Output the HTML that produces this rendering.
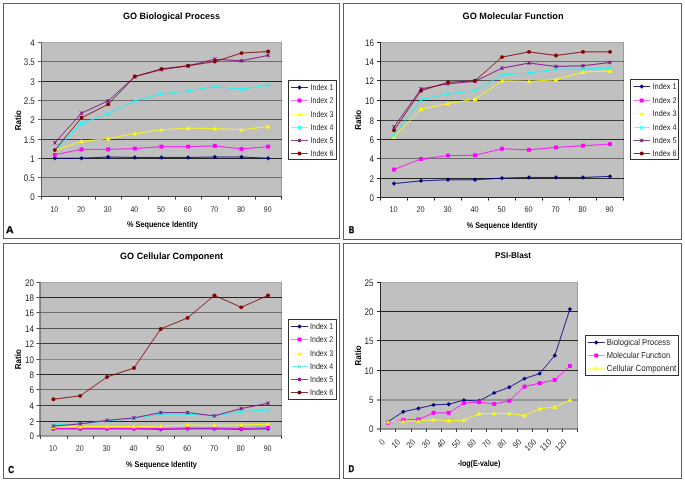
<!DOCTYPE html>
<html><head><meta charset="utf-8"><style>
html,body{margin:0;padding:0;background:#fff;width:685px;height:482px;overflow:hidden}
svg{display:block}
text{font-family:"Liberation Sans", sans-serif;text-rendering:geometricPrecision}
</style></head><body>
<svg width="685" height="482" viewBox="0 0 685 482" font-family='"Liberation Sans", sans-serif'>
<defs><filter id="bl" x="0" y="0" width="1" height="1"><feGaussianBlur stdDeviation="0.3"/></filter></defs>
<g filter="url(#bl)">
<rect width="685" height="482" fill="#fff"/>
<rect x="3.5" y="3.5" width="336" height="235" fill="#fff" stroke="#5e5e5e" stroke-width="1"/>
<text x="171.5" y="19" font-size="9.2" font-weight="bold" text-anchor="middle" textLength="97" lengthAdjust="spacingAndGlyphs" fill="#000">GO Biological Process</text>
<rect x="41" y="42" width="241" height="154" fill="#C0C0C0"/>
<rect x="41" y="42" width="241" height="1" fill="#a6a6a6"/>
<rect x="281" y="42" width="1" height="154" fill="#9a9a9a"/>
<rect x="41" y="61" width="241" height="1" fill="#6c6c6c"/>
<rect x="41" y="81" width="241" height="1" fill="#262626"/>
<rect x="41" y="100" width="241" height="1" fill="#6c6c6c"/>
<rect x="41" y="119" width="241" height="1" fill="#525252"/>
<rect x="41" y="139" width="241" height="1" fill="#3c3c3c"/>
<rect x="41" y="158" width="241" height="1" fill="#262626"/>
<rect x="41" y="177" width="241" height="1" fill="#6c6c6c"/>
<rect x="41" y="42" width="1" height="155" fill="#5e5e5e"/>
<rect x="38" y="61" width="3" height="1" fill="#5e5e5e"/>
<text x="34.8" y="64.7" font-size="9.6" text-anchor="end" textLength="11.09" lengthAdjust="spacingAndGlyphs" fill="#262626">3.5</text>
<rect x="38" y="81" width="3" height="1" fill="#5e5e5e"/>
<text x="34.8" y="84.7" font-size="9.6" text-anchor="end" textLength="4.44" lengthAdjust="spacingAndGlyphs" fill="#262626">3</text>
<rect x="38" y="100" width="3" height="1" fill="#5e5e5e"/>
<text x="34.8" y="103.7" font-size="9.6" text-anchor="end" textLength="11.09" lengthAdjust="spacingAndGlyphs" fill="#262626">2.5</text>
<rect x="38" y="119" width="3" height="1" fill="#5e5e5e"/>
<text x="34.8" y="122.7" font-size="9.6" text-anchor="end" textLength="4.44" lengthAdjust="spacingAndGlyphs" fill="#262626">2</text>
<rect x="38" y="139" width="3" height="1" fill="#5e5e5e"/>
<text x="34.8" y="142.7" font-size="9.6" text-anchor="end" textLength="11.09" lengthAdjust="spacingAndGlyphs" fill="#262626">1.5</text>
<rect x="38" y="158" width="3" height="1" fill="#5e5e5e"/>
<text x="34.8" y="161.7" font-size="9.6" text-anchor="end" textLength="4.44" lengthAdjust="spacingAndGlyphs" fill="#262626">1</text>
<rect x="38" y="177" width="3" height="1" fill="#5e5e5e"/>
<text x="34.8" y="180.7" font-size="9.6" text-anchor="end" textLength="11.09" lengthAdjust="spacingAndGlyphs" fill="#262626">0.5</text>
<rect x="38" y="42" width="3" height="1" fill="#5e5e5e"/>
<text x="34.8" y="45.7" font-size="9.6" text-anchor="end" textLength="4.44" lengthAdjust="spacingAndGlyphs" fill="#262626">4</text>
<rect x="38" y="196" width="3" height="1" fill="#5e5e5e"/>
<text x="34.8" y="199.7" font-size="9.6" text-anchor="end" textLength="4.44" lengthAdjust="spacingAndGlyphs" fill="#262626">0</text>
<rect x="41" y="196" width="241" height="1" fill="#3a3a3a"/>
<rect x="41" y="196" width="1" height="3.5" fill="#3a3a3a"/>
<rect x="68" y="196" width="1" height="3.5" fill="#3a3a3a"/>
<rect x="95" y="196" width="1" height="3.5" fill="#3a3a3a"/>
<rect x="121" y="196" width="1" height="3.5" fill="#3a3a3a"/>
<rect x="148" y="196" width="1" height="3.5" fill="#3a3a3a"/>
<rect x="175" y="196" width="1" height="3.5" fill="#3a3a3a"/>
<rect x="201" y="196" width="1" height="3.5" fill="#3a3a3a"/>
<rect x="228" y="196" width="1" height="3.5" fill="#3a3a3a"/>
<rect x="255" y="196" width="1" height="3.5" fill="#3a3a3a"/>
<rect x="281" y="196" width="1" height="3.5" fill="#3a3a3a"/>
<text x="54.33" y="212" font-size="8.4" text-anchor="middle" textLength="7.7" lengthAdjust="spacingAndGlyphs" fill="#262626">10</text>
<text x="81" y="212" font-size="8.4" text-anchor="middle" textLength="7.7" lengthAdjust="spacingAndGlyphs" fill="#262626">20</text>
<text x="107.67" y="212" font-size="8.4" text-anchor="middle" textLength="7.7" lengthAdjust="spacingAndGlyphs" fill="#262626">30</text>
<text x="134.33" y="212" font-size="8.4" text-anchor="middle" textLength="7.7" lengthAdjust="spacingAndGlyphs" fill="#262626">40</text>
<text x="161" y="212" font-size="8.4" text-anchor="middle" textLength="7.7" lengthAdjust="spacingAndGlyphs" fill="#262626">50</text>
<text x="187.67" y="212" font-size="8.4" text-anchor="middle" textLength="7.7" lengthAdjust="spacingAndGlyphs" fill="#262626">60</text>
<text x="214.33" y="212" font-size="8.4" text-anchor="middle" textLength="7.7" lengthAdjust="spacingAndGlyphs" fill="#262626">70</text>
<text x="241" y="212" font-size="8.4" text-anchor="middle" textLength="7.7" lengthAdjust="spacingAndGlyphs" fill="#262626">80</text>
<text x="267.67" y="212" font-size="8.4" text-anchor="middle" textLength="7.7" lengthAdjust="spacingAndGlyphs" fill="#262626">90</text>
<polyline points="54.83,158.21 81.5,158.21 108.17,157.05 134.83,157.44 161.5,157.44 188.17,157.44 214.83,157.05 241.5,157.05 268.17,158.21" fill="none" stroke="#000080" stroke-width="0.85"/>
<polyline points="54.83,154.74 81.5,149.35 108.17,149.35 134.83,148.58 161.5,146.66 188.17,146.66 214.83,145.89 241.5,148.97 268.17,146.66" fill="none" stroke="#FF00FF" stroke-width="0.85"/>
<polyline points="54.83,150.51 81.5,141.27 108.17,138.57 134.83,133.56 161.5,129.71 188.17,128.17 214.83,128.56 241.5,129.71 268.17,126.63" fill="none" stroke="#FFFF00" stroke-width="0.85"/>
<polyline points="54.83,150.51 81.5,123.55 108.17,113.92 134.83,100.83 161.5,93.9 188.17,90.82 214.83,86.58 241.5,89.28 268.17,85.04" fill="none" stroke="#00FFFF" stroke-width="0.85"/>
<polyline points="54.83,142.81 81.5,113.15 108.17,100.83 134.83,76.57 161.5,69.64 188.17,65.79 214.83,59.24 241.5,60.78 268.17,55.39" fill="none" stroke="#800080" stroke-width="0.85"/>
<polyline points="54.83,150.12 81.5,117.77 108.17,104.3 134.83,76.57 161.5,68.87 188.17,65.79 214.83,61.55 241.5,53.08 268.17,51.54" fill="none" stroke="#800000" stroke-width="0.85"/>
<path d="M54.83 156L57.04 158.21L54.83 160.42L52.62 158.21Z" fill="#000080"/>
<path d="M81.5 156L83.71 158.21L81.5 160.42L79.29 158.21Z" fill="#000080"/>
<path d="M108.17 154.84L110.38 157.05L108.17 159.26L105.96 157.05Z" fill="#000080"/>
<path d="M134.83 155.23L137.04 157.44L134.83 159.65L132.62 157.44Z" fill="#000080"/>
<path d="M161.5 155.23L163.71 157.44L161.5 159.65L159.29 157.44Z" fill="#000080"/>
<path d="M188.17 155.23L190.38 157.44L188.17 159.65L185.96 157.44Z" fill="#000080"/>
<path d="M214.83 154.84L217.04 157.05L214.83 159.26L212.62 157.05Z" fill="#000080"/>
<path d="M241.5 154.84L243.71 157.05L241.5 159.26L239.29 157.05Z" fill="#000080"/>
<path d="M268.17 156L270.38 158.21L268.17 160.42L265.96 158.21Z" fill="#000080"/>
<rect x="52.88" y="152.79" width="3.91" height="3.91" fill="#FF00FF"/>
<rect x="79.55" y="147.4" width="3.91" height="3.91" fill="#FF00FF"/>
<rect x="106.21" y="147.4" width="3.91" height="3.91" fill="#FF00FF"/>
<rect x="132.88" y="146.63" width="3.91" height="3.91" fill="#FF00FF"/>
<rect x="159.54" y="144.7" width="3.91" height="3.91" fill="#FF00FF"/>
<rect x="186.21" y="144.7" width="3.91" height="3.91" fill="#FF00FF"/>
<rect x="212.88" y="143.93" width="3.91" height="3.91" fill="#FF00FF"/>
<rect x="239.54" y="147.01" width="3.91" height="3.91" fill="#FF00FF"/>
<rect x="266.21" y="144.7" width="3.91" height="3.91" fill="#FF00FF"/>
<path d="M54.83 148.21L57.13 152.34L52.54 152.34Z" fill="#FFFF00"/>
<path d="M81.5 138.97L83.8 143.1L79.2 143.1Z" fill="#FFFF00"/>
<path d="M108.17 136.27L110.46 140.41L105.87 140.41Z" fill="#FFFF00"/>
<path d="M134.83 131.27L137.13 135.4L132.54 135.4Z" fill="#FFFF00"/>
<path d="M161.5 127.42L163.79 131.55L159.21 131.55Z" fill="#FFFF00"/>
<path d="M188.17 125.88L190.46 130.01L185.87 130.01Z" fill="#FFFF00"/>
<path d="M214.83 126.26L217.13 130.39L212.54 130.39Z" fill="#FFFF00"/>
<path d="M241.5 127.42L243.79 131.55L239.21 131.55Z" fill="#FFFF00"/>
<path d="M268.17 124.34L270.46 128.47L265.87 128.47Z" fill="#FFFF00"/>
<path d="M53.13 148.81L56.53 152.21M53.13 152.21L56.53 148.81" stroke="#00FFFF" stroke-width="0.9"/>
<path d="M79.8 121.85L83.2 125.25M79.8 125.25L83.2 121.85" stroke="#00FFFF" stroke-width="0.9"/>
<path d="M106.47 112.22L109.87 115.62M106.47 115.62L109.87 112.22" stroke="#00FFFF" stroke-width="0.9"/>
<path d="M133.13 99.13L136.53 102.53M133.13 102.53L136.53 99.13" stroke="#00FFFF" stroke-width="0.9"/>
<path d="M159.8 92.2L163.2 95.6M159.8 95.6L163.2 92.2" stroke="#00FFFF" stroke-width="0.9"/>
<path d="M186.47 89.12L189.87 92.52M186.47 92.52L189.87 89.12" stroke="#00FFFF" stroke-width="0.9"/>
<path d="M213.13 84.88L216.53 88.28M213.13 88.28L216.53 84.88" stroke="#00FFFF" stroke-width="0.9"/>
<path d="M239.8 87.58L243.2 90.98M239.8 90.98L243.2 87.58" stroke="#00FFFF" stroke-width="0.9"/>
<path d="M266.47 83.34L269.87 86.74M266.47 86.74L269.87 83.34" stroke="#00FFFF" stroke-width="0.9"/>
<path d="M53.13 141.11L56.53 144.51M53.13 144.51L56.53 141.11M54.83 141.11L54.83 144.51" stroke="#800080" stroke-width="0.9"/>
<path d="M79.8 111.45L83.2 114.85M79.8 114.85L83.2 111.45M81.5 111.45L81.5 114.85" stroke="#800080" stroke-width="0.9"/>
<path d="M106.47 99.13L109.87 102.53M106.47 102.53L109.87 99.13M108.17 99.13L108.17 102.53" stroke="#800080" stroke-width="0.9"/>
<path d="M133.13 74.87L136.53 78.27M133.13 78.27L136.53 74.87M134.83 74.87L134.83 78.27" stroke="#800080" stroke-width="0.9"/>
<path d="M159.8 67.94L163.2 71.34M159.8 71.34L163.2 67.94M161.5 67.94L161.5 71.34" stroke="#800080" stroke-width="0.9"/>
<path d="M186.47 64.09L189.87 67.49M186.47 67.49L189.87 64.09M188.17 64.09L188.17 67.49" stroke="#800080" stroke-width="0.9"/>
<path d="M213.13 57.54L216.53 60.94M213.13 60.94L216.53 57.54M214.83 57.54L214.83 60.94" stroke="#800080" stroke-width="0.9"/>
<path d="M239.8 59.08L243.2 62.48M239.8 62.48L243.2 59.08M241.5 59.08L241.5 62.48" stroke="#800080" stroke-width="0.9"/>
<path d="M266.47 53.69L269.87 57.09M266.47 57.09L269.87 53.69M268.17 53.69L268.17 57.09" stroke="#800080" stroke-width="0.9"/>
<circle cx="54.83" cy="150.12" r="1.95" fill="#800000"/>
<circle cx="81.5" cy="117.77" r="1.95" fill="#800000"/>
<circle cx="108.17" cy="104.3" r="1.95" fill="#800000"/>
<circle cx="134.83" cy="76.57" r="1.95" fill="#800000"/>
<circle cx="161.5" cy="68.87" r="1.95" fill="#800000"/>
<circle cx="188.17" cy="65.79" r="1.95" fill="#800000"/>
<circle cx="214.83" cy="61.55" r="1.95" fill="#800000"/>
<circle cx="241.5" cy="53.08" r="1.95" fill="#800000"/>
<circle cx="268.17" cy="51.54" r="1.95" fill="#800000"/>
<rect x="288.5" y="80.5" width="48" height="79" fill="#fff" stroke="#333" stroke-width="1"/>
<line x1="291" y1="87.5" x2="308" y2="87.5" stroke="#2a2a80" stroke-width="1"/>
<path d="M299.5 85.29L301.71 87.5L299.5 89.71L297.29 87.5Z" fill="#000080"/>
<text x="310.6" y="89.5" font-size="8.3" textLength="22.8" lengthAdjust="spacingAndGlyphs" fill="#262626">Index 1</text>
<line x1="291" y1="100.5" x2="308" y2="100.5" stroke="#f47af4" stroke-width="1"/>
<rect x="297.55" y="98.55" width="3.91" height="3.91" fill="#FF00FF"/>
<text x="310.6" y="102.5" font-size="8.3" textLength="22.8" lengthAdjust="spacingAndGlyphs" fill="#262626">Index 2</text>
<line x1="291" y1="114.5" x2="308" y2="114.5" stroke="#ffff7a" stroke-width="1"/>
<path d="M299.5 112.2L301.8 116.34L297.2 116.34Z" fill="#FFFF00"/>
<text x="310.6" y="116.5" font-size="8.3" textLength="22.8" lengthAdjust="spacingAndGlyphs" fill="#262626">Index 3</text>
<line x1="291" y1="127.5" x2="308" y2="127.5" stroke="#7af4f4" stroke-width="1"/>
<path d="M297.8 125.8L301.2 129.2M297.8 129.2L301.2 125.8" stroke="#00FFFF" stroke-width="0.9"/>
<text x="310.6" y="129.5" font-size="8.3" textLength="22.8" lengthAdjust="spacingAndGlyphs" fill="#262626">Index 4</text>
<line x1="291" y1="140.5" x2="308" y2="140.5" stroke="#8a4a8a" stroke-width="1"/>
<path d="M297.8 138.8L301.2 142.2M297.8 142.2L301.2 138.8M299.5 138.8L299.5 142.2" stroke="#800080" stroke-width="0.9"/>
<text x="310.6" y="142.5" font-size="8.3" textLength="22.8" lengthAdjust="spacingAndGlyphs" fill="#262626">Index 5</text>
<line x1="291" y1="153.5" x2="308" y2="153.5" stroke="#8a3030" stroke-width="1"/>
<circle cx="299.5" cy="153.5" r="1.95" fill="#800000"/>
<text x="310.6" y="155.5" font-size="8.3" textLength="22.8" lengthAdjust="spacingAndGlyphs" fill="#262626">Index 6</text>
<text x="21" y="120.2" font-size="8.6" font-weight="bold" text-anchor="middle" textLength="20" lengthAdjust="spacingAndGlyphs" fill="#000" transform="rotate(-90 21 120.2)">Ratio</text>
<text x="162.4" y="227.1" font-size="8.4" font-weight="bold" text-anchor="middle" textLength="70.6" lengthAdjust="spacingAndGlyphs" fill="#000">% Sequence Identity</text>
<text x="6" y="233" font-size="10" font-weight="bold" textLength="7.6" lengthAdjust="spacingAndGlyphs" fill="#000" stroke="#000" stroke-width="0.35">A</text>
<rect x="343.5" y="3.5" width="338" height="236" fill="#fff" stroke="#5e5e5e" stroke-width="1"/>
<text x="513" y="19" font-size="9.2" font-weight="bold" text-anchor="middle" textLength="101" lengthAdjust="spacingAndGlyphs" fill="#000">GO Molecular Function</text>
<rect x="380" y="42" width="244" height="155" fill="#C0C0C0"/>
<rect x="380" y="42" width="244" height="1" fill="#a6a6a6"/>
<rect x="623" y="42" width="1" height="155" fill="#9a9a9a"/>
<rect x="380" y="61" width="244" height="1" fill="#6c6c6c"/>
<rect x="380" y="80" width="244" height="1" fill="#525252"/>
<rect x="380" y="100" width="244" height="1" fill="#262626"/>
<rect x="380" y="120" width="244" height="1" fill="#3c3c3c"/>
<rect x="380" y="139" width="244" height="1" fill="#262626"/>
<rect x="380" y="158" width="244" height="1" fill="#6c6c6c"/>
<rect x="380" y="178" width="244" height="1" fill="#262626"/>
<rect x="380" y="42" width="1" height="156" fill="#262626"/>
<rect x="377" y="61" width="3" height="1" fill="#262626"/>
<text x="374" y="64.7" font-size="9.6" text-anchor="end" textLength="8.88" lengthAdjust="spacingAndGlyphs" fill="#262626">14</text>
<rect x="377" y="80" width="3" height="1" fill="#262626"/>
<text x="374" y="83.7" font-size="9.6" text-anchor="end" textLength="8.88" lengthAdjust="spacingAndGlyphs" fill="#262626">12</text>
<rect x="377" y="100" width="3" height="1" fill="#262626"/>
<text x="374" y="103.7" font-size="9.6" text-anchor="end" textLength="8.88" lengthAdjust="spacingAndGlyphs" fill="#262626">10</text>
<rect x="377" y="120" width="3" height="1" fill="#262626"/>
<text x="374" y="123.7" font-size="9.6" text-anchor="end" textLength="4.44" lengthAdjust="spacingAndGlyphs" fill="#262626">8</text>
<rect x="377" y="139" width="3" height="1" fill="#262626"/>
<text x="374" y="142.7" font-size="9.6" text-anchor="end" textLength="4.44" lengthAdjust="spacingAndGlyphs" fill="#262626">6</text>
<rect x="377" y="158" width="3" height="1" fill="#262626"/>
<text x="374" y="161.7" font-size="9.6" text-anchor="end" textLength="4.44" lengthAdjust="spacingAndGlyphs" fill="#262626">4</text>
<rect x="377" y="178" width="3" height="1" fill="#262626"/>
<text x="374" y="181.7" font-size="9.6" text-anchor="end" textLength="4.44" lengthAdjust="spacingAndGlyphs" fill="#262626">2</text>
<rect x="377" y="42" width="3" height="1" fill="#262626"/>
<text x="374" y="45.7" font-size="9.6" text-anchor="end" textLength="8.88" lengthAdjust="spacingAndGlyphs" fill="#262626">16</text>
<rect x="377" y="197" width="3" height="1" fill="#262626"/>
<text x="374" y="200.7" font-size="9.6" text-anchor="end" textLength="4.44" lengthAdjust="spacingAndGlyphs" fill="#262626">0</text>
<rect x="380" y="197" width="244" height="1" fill="#262626"/>
<rect x="380" y="197" width="1" height="3.5" fill="#262626"/>
<rect x="407" y="197" width="1" height="3.5" fill="#262626"/>
<rect x="434" y="197" width="1" height="3.5" fill="#262626"/>
<rect x="461" y="197" width="1" height="3.5" fill="#262626"/>
<rect x="488" y="197" width="1" height="3.5" fill="#262626"/>
<rect x="515" y="197" width="1" height="3.5" fill="#262626"/>
<rect x="542" y="197" width="1" height="3.5" fill="#262626"/>
<rect x="569" y="197" width="1" height="3.5" fill="#262626"/>
<rect x="596" y="197" width="1" height="3.5" fill="#262626"/>
<rect x="623" y="197" width="1" height="3.5" fill="#262626"/>
<text x="393.5" y="212.4" font-size="8.4" text-anchor="middle" textLength="8.2" lengthAdjust="spacingAndGlyphs" fill="#262626">10</text>
<text x="420.5" y="212.4" font-size="8.4" text-anchor="middle" textLength="8.2" lengthAdjust="spacingAndGlyphs" fill="#262626">20</text>
<text x="447.5" y="212.4" font-size="8.4" text-anchor="middle" textLength="8.2" lengthAdjust="spacingAndGlyphs" fill="#262626">30</text>
<text x="474.5" y="212.4" font-size="8.4" text-anchor="middle" textLength="8.2" lengthAdjust="spacingAndGlyphs" fill="#262626">40</text>
<text x="501.5" y="212.4" font-size="8.4" text-anchor="middle" textLength="8.2" lengthAdjust="spacingAndGlyphs" fill="#262626">50</text>
<text x="528.5" y="212.4" font-size="8.4" text-anchor="middle" textLength="8.2" lengthAdjust="spacingAndGlyphs" fill="#262626">60</text>
<text x="555.5" y="212.4" font-size="8.4" text-anchor="middle" textLength="8.2" lengthAdjust="spacingAndGlyphs" fill="#262626">70</text>
<text x="582.5" y="212.4" font-size="8.4" text-anchor="middle" textLength="8.2" lengthAdjust="spacingAndGlyphs" fill="#262626">80</text>
<text x="609.5" y="212.4" font-size="8.4" text-anchor="middle" textLength="8.2" lengthAdjust="spacingAndGlyphs" fill="#262626">90</text>
<polyline points="394,183.58 421,180.86 448,179.79 475,179.79 502,178.13 529,177.45 556,177.45 583,177.45 610,176.38" fill="none" stroke="#000080" stroke-width="0.85"/>
<polyline points="394,169.57 421,158.97 448,155.57 475,155.28 502,148.76 529,149.83 556,147.4 583,145.74 610,144.09" fill="none" stroke="#FF00FF" stroke-width="0.85"/>
<polyline points="394,136.99 421,109.07 448,103.62 475,99.05 502,80.76 529,81.44 556,79.69 583,72.11 610,70.84" fill="none" stroke="#FFFF00" stroke-width="0.85"/>
<polyline points="394,135.33 421,99.73 448,93.7 475,90.68 502,74.83 529,73.08 556,69.09 583,69.09 610,68.21" fill="none" stroke="#00FFFF" stroke-width="0.85"/>
<polyline points="394,126.97 421,88.93 448,83.78 475,81.35 502,68.12 529,63.06 556,66.46 583,65.78 610,62.48" fill="none" stroke="#800080" stroke-width="0.85"/>
<polyline points="394,130.37 421,90.68 448,82.32 475,80.76 502,57.12 529,51.87 556,55.47 583,51.87 610,51.87" fill="none" stroke="#800000" stroke-width="0.85"/>
<path d="M394 181.37L396.21 183.58L394 185.79L391.79 183.58Z" fill="#000080"/>
<path d="M421 178.65L423.21 180.86L421 183.07L418.79 180.86Z" fill="#000080"/>
<path d="M448 177.58L450.21 179.79L448 182L445.79 179.79Z" fill="#000080"/>
<path d="M475 177.58L477.21 179.79L475 182L472.79 179.79Z" fill="#000080"/>
<path d="M502 175.92L504.21 178.13L502 180.34L499.79 178.13Z" fill="#000080"/>
<path d="M529 175.24L531.21 177.45L529 179.66L526.79 177.45Z" fill="#000080"/>
<path d="M556 175.24L558.21 177.45L556 179.66L553.79 177.45Z" fill="#000080"/>
<path d="M583 175.24L585.21 177.45L583 179.66L580.79 177.45Z" fill="#000080"/>
<path d="M610 174.17L612.21 176.38L610 178.59L607.79 176.38Z" fill="#000080"/>
<rect x="392.05" y="167.62" width="3.91" height="3.91" fill="#FF00FF"/>
<rect x="419.05" y="157.02" width="3.91" height="3.91" fill="#FF00FF"/>
<rect x="446.05" y="153.61" width="3.91" height="3.91" fill="#FF00FF"/>
<rect x="473.05" y="153.32" width="3.91" height="3.91" fill="#FF00FF"/>
<rect x="500.05" y="146.8" width="3.91" height="3.91" fill="#FF00FF"/>
<rect x="527.04" y="147.87" width="3.91" height="3.91" fill="#FF00FF"/>
<rect x="554.04" y="145.44" width="3.91" height="3.91" fill="#FF00FF"/>
<rect x="581.04" y="143.79" width="3.91" height="3.91" fill="#FF00FF"/>
<rect x="608.04" y="142.13" width="3.91" height="3.91" fill="#FF00FF"/>
<path d="M394 134.69L396.3 138.82L391.7 138.82Z" fill="#FFFF00"/>
<path d="M421 106.77L423.3 110.91L418.7 110.91Z" fill="#FFFF00"/>
<path d="M448 101.33L450.3 105.46L445.7 105.46Z" fill="#FFFF00"/>
<path d="M475 96.76L477.3 100.89L472.7 100.89Z" fill="#FFFF00"/>
<path d="M502 78.47L504.3 82.6L499.7 82.6Z" fill="#FFFF00"/>
<path d="M529 79.15L531.29 83.28L526.71 83.28Z" fill="#FFFF00"/>
<path d="M556 77.4L558.29 81.53L553.71 81.53Z" fill="#FFFF00"/>
<path d="M583 69.81L585.29 73.94L580.71 73.94Z" fill="#FFFF00"/>
<path d="M610 68.55L612.29 72.68L607.71 72.68Z" fill="#FFFF00"/>
<path d="M392.3 133.63L395.7 137.03M392.3 137.03L395.7 133.63" stroke="#00FFFF" stroke-width="0.9"/>
<path d="M419.3 98.03L422.7 101.43M419.3 101.43L422.7 98.03" stroke="#00FFFF" stroke-width="0.9"/>
<path d="M446.3 92L449.7 95.4M446.3 95.4L449.7 92" stroke="#00FFFF" stroke-width="0.9"/>
<path d="M473.3 88.98L476.7 92.38M473.3 92.38L476.7 88.98" stroke="#00FFFF" stroke-width="0.9"/>
<path d="M500.3 73.13L503.7 76.53M500.3 76.53L503.7 73.13" stroke="#00FFFF" stroke-width="0.9"/>
<path d="M527.3 71.38L530.7 74.78M527.3 74.78L530.7 71.38" stroke="#00FFFF" stroke-width="0.9"/>
<path d="M554.3 67.39L557.7 70.79M554.3 70.79L557.7 67.39" stroke="#00FFFF" stroke-width="0.9"/>
<path d="M581.3 67.39L584.7 70.79M581.3 70.79L584.7 67.39" stroke="#00FFFF" stroke-width="0.9"/>
<path d="M608.3 66.51L611.7 69.91M608.3 69.91L611.7 66.51" stroke="#00FFFF" stroke-width="0.9"/>
<path d="M392.3 125.27L395.7 128.67M392.3 128.67L395.7 125.27M394 125.27L394 128.67" stroke="#800080" stroke-width="0.9"/>
<path d="M419.3 87.23L422.7 90.63M419.3 90.63L422.7 87.23M421 87.23L421 90.63" stroke="#800080" stroke-width="0.9"/>
<path d="M446.3 82.08L449.7 85.48M446.3 85.48L449.7 82.08M448 82.08L448 85.48" stroke="#800080" stroke-width="0.9"/>
<path d="M473.3 79.65L476.7 83.05M473.3 83.05L476.7 79.65M475 79.65L475 83.05" stroke="#800080" stroke-width="0.9"/>
<path d="M500.3 66.42L503.7 69.82M500.3 69.82L503.7 66.42M502 66.42L502 69.82" stroke="#800080" stroke-width="0.9"/>
<path d="M527.3 61.36L530.7 64.76M527.3 64.76L530.7 61.36M529 61.36L529 64.76" stroke="#800080" stroke-width="0.9"/>
<path d="M554.3 64.76L557.7 68.16M554.3 68.16L557.7 64.76M556 64.76L556 68.16" stroke="#800080" stroke-width="0.9"/>
<path d="M581.3 64.08L584.7 67.48M581.3 67.48L584.7 64.08M583 64.08L583 67.48" stroke="#800080" stroke-width="0.9"/>
<path d="M608.3 60.78L611.7 64.18M608.3 64.18L611.7 60.78M610 60.78L610 64.18" stroke="#800080" stroke-width="0.9"/>
<circle cx="394" cy="130.37" r="1.95" fill="#800000"/>
<circle cx="421" cy="90.68" r="1.95" fill="#800000"/>
<circle cx="448" cy="82.32" r="1.95" fill="#800000"/>
<circle cx="475" cy="80.76" r="1.95" fill="#800000"/>
<circle cx="502" cy="57.12" r="1.95" fill="#800000"/>
<circle cx="529" cy="51.87" r="1.95" fill="#800000"/>
<circle cx="556" cy="55.47" r="1.95" fill="#800000"/>
<circle cx="583" cy="51.87" r="1.95" fill="#800000"/>
<circle cx="610" cy="51.87" r="1.95" fill="#800000"/>
<rect x="630.5" y="79.5" width="48" height="80" fill="#fff" stroke="#333" stroke-width="1"/>
<line x1="633.4" y1="86.5" x2="650" y2="86.5" stroke="#2a2a80" stroke-width="1"/>
<path d="M641.7 84.29L643.91 86.5L641.7 88.71L639.49 86.5Z" fill="#000080"/>
<text x="652.5" y="89.1" font-size="8.2" textLength="24.2" lengthAdjust="spacingAndGlyphs" fill="#262626">Index 1</text>
<line x1="633.4" y1="100.5" x2="650" y2="100.5" stroke="#f47af4" stroke-width="1"/>
<rect x="639.75" y="98.55" width="3.91" height="3.91" fill="#FF00FF"/>
<text x="652.5" y="103.1" font-size="8.2" textLength="24.2" lengthAdjust="spacingAndGlyphs" fill="#262626">Index 2</text>
<line x1="633.4" y1="113.5" x2="650" y2="113.5" stroke="#ffff7a" stroke-width="1"/>
<path d="M641.7 111.2L644 115.34L639.41 115.34Z" fill="#FFFF00"/>
<text x="652.5" y="116.1" font-size="8.2" textLength="24.2" lengthAdjust="spacingAndGlyphs" fill="#262626">Index 3</text>
<line x1="633.4" y1="127.5" x2="650" y2="127.5" stroke="#7af4f4" stroke-width="1"/>
<path d="M640 125.8L643.4 129.2M640 129.2L643.4 125.8" stroke="#00FFFF" stroke-width="0.9"/>
<text x="652.5" y="130.1" font-size="8.2" textLength="24.2" lengthAdjust="spacingAndGlyphs" fill="#262626">Index 4</text>
<line x1="633.4" y1="140.5" x2="650" y2="140.5" stroke="#8a4a8a" stroke-width="1"/>
<path d="M640 138.8L643.4 142.2M640 142.2L643.4 138.8M641.7 138.8L641.7 142.2" stroke="#800080" stroke-width="0.9"/>
<text x="652.5" y="143.1" font-size="8.2" textLength="24.2" lengthAdjust="spacingAndGlyphs" fill="#262626">Index 5</text>
<line x1="633.4" y1="153.5" x2="650" y2="153.5" stroke="#8a3030" stroke-width="1"/>
<circle cx="641.7" cy="153.5" r="1.95" fill="#800000"/>
<text x="652.5" y="156.1" font-size="8.2" textLength="24.2" lengthAdjust="spacingAndGlyphs" fill="#262626">Index 6</text>
<text x="360.8" y="119.8" font-size="8.6" font-weight="bold" text-anchor="middle" textLength="20" lengthAdjust="spacingAndGlyphs" fill="#000" transform="rotate(-90 360.8 119.8)">Ratio</text>
<text x="502" y="227.5" font-size="8.4" font-weight="bold" text-anchor="middle" textLength="70.6" lengthAdjust="spacingAndGlyphs" fill="#000">% Sequence Identity</text>
<text x="348.8" y="233" font-size="10" font-weight="bold" textLength="5.5" lengthAdjust="spacingAndGlyphs" fill="#000" stroke="#000" stroke-width="0.35">B</text>
<rect x="3.5" y="243.5" width="336" height="235" fill="#fff" stroke="#5e5e5e" stroke-width="1"/>
<text x="171.5" y="259.3" font-size="9.2" font-weight="bold" text-anchor="middle" textLength="103" lengthAdjust="spacingAndGlyphs" fill="#000">GO Cellular Component</text>
<rect x="39.5" y="282" width="242.5" height="153.5" fill="#C0C0C0"/>
<rect x="39.5" y="282" width="242.5" height="1" fill="#a6a6a6"/>
<rect x="281" y="282" width="1" height="153.5" fill="#9a9a9a"/>
<rect x="39.5" y="297" width="242.5" height="1" fill="#262626"/>
<rect x="39.5" y="312" width="242.5" height="1" fill="#6c6c6c"/>
<rect x="39.5" y="328" width="242.5" height="1" fill="#525252"/>
<rect x="39.5" y="343" width="242.5" height="1" fill="#3c3c3c"/>
<rect x="39.5" y="359" width="242.5" height="1" fill="#8a8a8a"/>
<rect x="39.5" y="374" width="242.5" height="1" fill="#262626"/>
<rect x="39.5" y="389" width="242.5" height="1" fill="#6c6c6c"/>
<rect x="39.5" y="405" width="242.5" height="1" fill="#3c3c3c"/>
<rect x="39.5" y="421" width="242.5" height="1" fill="#262626"/>
<rect x="39.5" y="282" width="1" height="154.5" fill="#444"/>
<rect x="36.5" y="297" width="3" height="1" fill="#444"/>
<text x="34" y="300.7" font-size="9.6" text-anchor="end" textLength="8.88" lengthAdjust="spacingAndGlyphs" fill="#262626">18</text>
<rect x="36.5" y="312" width="3" height="1" fill="#444"/>
<text x="34" y="315.7" font-size="9.6" text-anchor="end" textLength="8.88" lengthAdjust="spacingAndGlyphs" fill="#262626">16</text>
<rect x="36.5" y="328" width="3" height="1" fill="#444"/>
<text x="34" y="331.7" font-size="9.6" text-anchor="end" textLength="8.88" lengthAdjust="spacingAndGlyphs" fill="#262626">14</text>
<rect x="36.5" y="343" width="3" height="1" fill="#444"/>
<text x="34" y="346.7" font-size="9.6" text-anchor="end" textLength="8.88" lengthAdjust="spacingAndGlyphs" fill="#262626">12</text>
<rect x="36.5" y="359" width="3" height="1" fill="#444"/>
<text x="34" y="362.7" font-size="9.6" text-anchor="end" textLength="8.88" lengthAdjust="spacingAndGlyphs" fill="#262626">10</text>
<rect x="36.5" y="374" width="3" height="1" fill="#444"/>
<text x="34" y="377.7" font-size="9.6" text-anchor="end" textLength="4.44" lengthAdjust="spacingAndGlyphs" fill="#262626">8</text>
<rect x="36.5" y="389" width="3" height="1" fill="#444"/>
<text x="34" y="392.7" font-size="9.6" text-anchor="end" textLength="4.44" lengthAdjust="spacingAndGlyphs" fill="#262626">6</text>
<rect x="36.5" y="405" width="3" height="1" fill="#444"/>
<text x="34" y="408.7" font-size="9.6" text-anchor="end" textLength="4.44" lengthAdjust="spacingAndGlyphs" fill="#262626">4</text>
<rect x="36.5" y="421" width="3" height="1" fill="#444"/>
<text x="34" y="424.7" font-size="9.6" text-anchor="end" textLength="4.44" lengthAdjust="spacingAndGlyphs" fill="#262626">2</text>
<rect x="36.5" y="282" width="3" height="1" fill="#444"/>
<text x="34" y="285.7" font-size="9.6" text-anchor="end" textLength="8.88" lengthAdjust="spacingAndGlyphs" fill="#262626">20</text>
<rect x="36.5" y="435.5" width="3" height="1" fill="#444"/>
<text x="34" y="439.2" font-size="9.6" text-anchor="end" textLength="4.44" lengthAdjust="spacingAndGlyphs" fill="#262626">0</text>
<rect x="39.5" y="435.5" width="242.5" height="1" fill="#4a4a4a"/>
<rect x="40" y="435.5" width="1" height="3.5" fill="#4a4a4a"/>
<rect x="67" y="435.5" width="1" height="3.5" fill="#4a4a4a"/>
<rect x="93" y="435.5" width="1" height="3.5" fill="#4a4a4a"/>
<rect x="120" y="435.5" width="1" height="3.5" fill="#4a4a4a"/>
<rect x="147" y="435.5" width="1" height="3.5" fill="#4a4a4a"/>
<rect x="174" y="435.5" width="1" height="3.5" fill="#4a4a4a"/>
<rect x="201" y="435.5" width="1" height="3.5" fill="#4a4a4a"/>
<rect x="228" y="435.5" width="1" height="3.5" fill="#4a4a4a"/>
<rect x="254" y="435.5" width="1" height="3.5" fill="#4a4a4a"/>
<rect x="281" y="435.5" width="1" height="3.5" fill="#4a4a4a"/>
<text x="52.92" y="450.9" font-size="8.4" text-anchor="middle" textLength="7.9" lengthAdjust="spacingAndGlyphs" fill="#262626">10</text>
<text x="79.75" y="450.9" font-size="8.4" text-anchor="middle" textLength="7.9" lengthAdjust="spacingAndGlyphs" fill="#262626">20</text>
<text x="106.58" y="450.9" font-size="8.4" text-anchor="middle" textLength="7.9" lengthAdjust="spacingAndGlyphs" fill="#262626">30</text>
<text x="133.42" y="450.9" font-size="8.4" text-anchor="middle" textLength="7.9" lengthAdjust="spacingAndGlyphs" fill="#262626">40</text>
<text x="160.25" y="450.9" font-size="8.4" text-anchor="middle" textLength="7.9" lengthAdjust="spacingAndGlyphs" fill="#262626">50</text>
<text x="187.08" y="450.9" font-size="8.4" text-anchor="middle" textLength="7.9" lengthAdjust="spacingAndGlyphs" fill="#262626">60</text>
<text x="213.92" y="450.9" font-size="8.4" text-anchor="middle" textLength="7.9" lengthAdjust="spacingAndGlyphs" fill="#262626">70</text>
<text x="240.75" y="450.9" font-size="8.4" text-anchor="middle" textLength="7.9" lengthAdjust="spacingAndGlyphs" fill="#262626">80</text>
<text x="267.58" y="450.9" font-size="8.4" text-anchor="middle" textLength="7.9" lengthAdjust="spacingAndGlyphs" fill="#262626">90</text>
<polyline points="53.42,428.78 80.25,428.78 107.08,428.78 133.92,428.78 160.75,429.25 187.58,428.78 214.42,428.78 241.25,429.25 268.08,428.78" fill="none" stroke="#000080" stroke-width="0.85"/>
<polyline points="53.42,428.47 80.25,428.47 107.08,428.47 133.92,428.47 160.75,428.47 187.58,428.09 214.42,428.09 241.25,428.47 268.08,427.7" fill="none" stroke="#FF00FF" stroke-width="0.85"/>
<polyline points="53.42,427.09 80.25,426.55 107.08,426.47 133.92,426.47 160.75,426.16 187.58,425 214.42,425.39 241.25,425 268.08,424.23" fill="none" stroke="#FFFF00" stroke-width="0.85"/>
<polyline points="53.42,424.85 80.25,423.84 107.08,420.76 133.92,418.44 160.75,414.2 187.58,414.2 214.42,416.13 241.25,411.88 268.08,409.8" fill="none" stroke="#00FFFF" stroke-width="0.85"/>
<polyline points="53.42,426.16 80.25,423.84 107.08,420.37 133.92,417.9 160.75,412.58 187.58,412.58 214.42,415.9 241.25,408.57 268.08,403.24" fill="none" stroke="#800080" stroke-width="0.85"/>
<polyline points="53.42,399.23 80.25,395.84 107.08,376.93 133.92,368.06 160.75,328.94 187.58,317.91 214.42,295.37 241.25,307.33 268.08,295.37" fill="none" stroke="#800000" stroke-width="0.85"/>
<path d="M53.42 426.57L55.63 428.78L53.42 430.99L51.21 428.78Z" fill="#000080"/>
<path d="M80.25 426.57L82.46 428.78L80.25 430.99L78.04 428.78Z" fill="#000080"/>
<path d="M107.08 426.57L109.29 428.78L107.08 430.99L104.87 428.78Z" fill="#000080"/>
<path d="M133.92 426.57L136.13 428.78L133.92 430.99L131.71 428.78Z" fill="#000080"/>
<path d="M160.75 427.04L162.96 429.25L160.75 431.46L158.54 429.25Z" fill="#000080"/>
<path d="M187.58 426.57L189.79 428.78L187.58 430.99L185.37 428.78Z" fill="#000080"/>
<path d="M214.42 426.57L216.63 428.78L214.42 430.99L212.21 428.78Z" fill="#000080"/>
<path d="M241.25 427.04L243.46 429.25L241.25 431.46L239.04 429.25Z" fill="#000080"/>
<path d="M268.08 426.57L270.29 428.78L268.08 430.99L265.87 428.78Z" fill="#000080"/>
<rect x="51.46" y="426.52" width="3.91" height="3.91" fill="#FF00FF"/>
<rect x="78.3" y="426.52" width="3.91" height="3.91" fill="#FF00FF"/>
<rect x="105.13" y="426.52" width="3.91" height="3.91" fill="#FF00FF"/>
<rect x="131.96" y="426.52" width="3.91" height="3.91" fill="#FF00FF"/>
<rect x="158.79" y="426.52" width="3.91" height="3.91" fill="#FF00FF"/>
<rect x="185.63" y="426.13" width="3.91" height="3.91" fill="#FF00FF"/>
<rect x="212.46" y="426.13" width="3.91" height="3.91" fill="#FF00FF"/>
<rect x="239.29" y="426.52" width="3.91" height="3.91" fill="#FF00FF"/>
<rect x="266.13" y="425.75" width="3.91" height="3.91" fill="#FF00FF"/>
<path d="M53.42 424.79L55.71 428.92L51.12 428.92Z" fill="#FFFF00"/>
<path d="M80.25 424.25L82.55 428.38L77.95 428.38Z" fill="#FFFF00"/>
<path d="M107.08 424.17L109.38 428.3L104.79 428.3Z" fill="#FFFF00"/>
<path d="M133.92 424.17L136.21 428.3L131.62 428.3Z" fill="#FFFF00"/>
<path d="M160.75 423.86L163.04 428L158.46 428Z" fill="#FFFF00"/>
<path d="M187.58 422.71L189.88 426.84L185.29 426.84Z" fill="#FFFF00"/>
<path d="M214.42 423.09L216.71 427.22L212.12 427.22Z" fill="#FFFF00"/>
<path d="M241.25 422.71L243.54 426.84L238.96 426.84Z" fill="#FFFF00"/>
<path d="M268.08 421.94L270.38 426.07L265.79 426.07Z" fill="#FFFF00"/>
<path d="M51.72 423.15L55.12 426.55M51.72 426.55L55.12 423.15" stroke="#00FFFF" stroke-width="0.9"/>
<path d="M78.55 422.14L81.95 425.54M78.55 425.54L81.95 422.14" stroke="#00FFFF" stroke-width="0.9"/>
<path d="M105.38 419.06L108.78 422.46M105.38 422.46L108.78 419.06" stroke="#00FFFF" stroke-width="0.9"/>
<path d="M132.22 416.74L135.62 420.14M132.22 420.14L135.62 416.74" stroke="#00FFFF" stroke-width="0.9"/>
<path d="M159.05 412.5L162.45 415.9M159.05 415.9L162.45 412.5" stroke="#00FFFF" stroke-width="0.9"/>
<path d="M185.88 412.5L189.28 415.9M185.88 415.9L189.28 412.5" stroke="#00FFFF" stroke-width="0.9"/>
<path d="M212.72 414.43L216.12 417.83M212.72 417.83L216.12 414.43" stroke="#00FFFF" stroke-width="0.9"/>
<path d="M239.55 410.18L242.95 413.58M239.55 413.58L242.95 410.18" stroke="#00FFFF" stroke-width="0.9"/>
<path d="M266.38 408.1L269.78 411.5M266.38 411.5L269.78 408.1" stroke="#00FFFF" stroke-width="0.9"/>
<path d="M51.72 424.46L55.12 427.86M51.72 427.86L55.12 424.46M53.42 424.46L53.42 427.86" stroke="#800080" stroke-width="0.9"/>
<path d="M78.55 422.14L81.95 425.54M78.55 425.54L81.95 422.14M80.25 422.14L80.25 425.54" stroke="#800080" stroke-width="0.9"/>
<path d="M105.38 418.67L108.78 422.07M105.38 422.07L108.78 418.67M107.08 418.67L107.08 422.07" stroke="#800080" stroke-width="0.9"/>
<path d="M132.22 416.2L135.62 419.6M132.22 419.6L135.62 416.2M133.92 416.2L133.92 419.6" stroke="#800080" stroke-width="0.9"/>
<path d="M159.05 410.88L162.45 414.28M159.05 414.28L162.45 410.88M160.75 410.88L160.75 414.28" stroke="#800080" stroke-width="0.9"/>
<path d="M185.88 410.88L189.28 414.28M185.88 414.28L189.28 410.88M187.58 410.88L187.58 414.28" stroke="#800080" stroke-width="0.9"/>
<path d="M212.72 414.2L216.12 417.6M212.72 417.6L216.12 414.2M214.42 414.2L214.42 417.6" stroke="#800080" stroke-width="0.9"/>
<path d="M239.55 406.87L242.95 410.27M239.55 410.27L242.95 406.87M241.25 406.87L241.25 410.27" stroke="#800080" stroke-width="0.9"/>
<path d="M266.38 401.54L269.78 404.94M266.38 404.94L269.78 401.54M268.08 401.54L268.08 404.94" stroke="#800080" stroke-width="0.9"/>
<circle cx="53.42" cy="399.23" r="1.95" fill="#800000"/>
<circle cx="80.25" cy="395.84" r="1.95" fill="#800000"/>
<circle cx="107.08" cy="376.93" r="1.95" fill="#800000"/>
<circle cx="133.92" cy="368.06" r="1.95" fill="#800000"/>
<circle cx="160.75" cy="328.94" r="1.95" fill="#800000"/>
<circle cx="187.58" cy="317.91" r="1.95" fill="#800000"/>
<circle cx="214.42" cy="295.37" r="1.95" fill="#800000"/>
<circle cx="241.25" cy="307.33" r="1.95" fill="#800000"/>
<circle cx="268.08" cy="295.37" r="1.95" fill="#800000"/>
<rect x="288.5" y="319.5" width="48" height="80" fill="#fff" stroke="#333" stroke-width="1"/>
<line x1="290.8" y1="326.5" x2="308.2" y2="326.5" stroke="#2a2a80" stroke-width="1"/>
<path d="M299.5 324.29L301.71 326.5L299.5 328.71L297.29 326.5Z" fill="#000080"/>
<text x="310" y="328.7" font-size="8.3" textLength="23.2" lengthAdjust="spacingAndGlyphs" fill="#262626">Index 1</text>
<line x1="290.8" y1="339.5" x2="308.2" y2="339.5" stroke="#f47af4" stroke-width="1"/>
<rect x="297.55" y="337.55" width="3.91" height="3.91" fill="#FF00FF"/>
<text x="310" y="341.7" font-size="8.3" textLength="23.2" lengthAdjust="spacingAndGlyphs" fill="#262626">Index 2</text>
<line x1="290.8" y1="353.5" x2="308.2" y2="353.5" stroke="#ffff7a" stroke-width="1"/>
<path d="M299.5 351.2L301.8 355.34L297.2 355.34Z" fill="#FFFF00"/>
<text x="310" y="355.7" font-size="8.3" textLength="23.2" lengthAdjust="spacingAndGlyphs" fill="#262626">Index 3</text>
<line x1="290.8" y1="366.5" x2="308.2" y2="366.5" stroke="#7af4f4" stroke-width="1"/>
<path d="M297.8 364.8L301.2 368.2M297.8 368.2L301.2 364.8" stroke="#00FFFF" stroke-width="0.9"/>
<text x="310" y="368.7" font-size="8.3" textLength="23.2" lengthAdjust="spacingAndGlyphs" fill="#262626">Index 4</text>
<line x1="290.8" y1="379.5" x2="308.2" y2="379.5" stroke="#8a4a8a" stroke-width="1"/>
<path d="M297.8 377.8L301.2 381.2M297.8 381.2L301.2 377.8M299.5 377.8L299.5 381.2" stroke="#800080" stroke-width="0.9"/>
<text x="310" y="381.7" font-size="8.3" textLength="23.2" lengthAdjust="spacingAndGlyphs" fill="#262626">Index 5</text>
<line x1="290.8" y1="392.5" x2="308.2" y2="392.5" stroke="#8a3030" stroke-width="1"/>
<circle cx="299.5" cy="392.5" r="1.95" fill="#800000"/>
<text x="310" y="394.7" font-size="8.3" textLength="23.2" lengthAdjust="spacingAndGlyphs" fill="#262626">Index 6</text>
<text x="21" y="359.2" font-size="8.6" font-weight="bold" text-anchor="middle" textLength="20" lengthAdjust="spacingAndGlyphs" fill="#000" transform="rotate(-90 21 359.2)">Ratio</text>
<text x="161.5" y="466.5" font-size="8.4" font-weight="bold" text-anchor="middle" textLength="70.8" lengthAdjust="spacingAndGlyphs" fill="#000">% Sequence Identity</text>
<text x="8.2" y="473.3" font-size="10" font-weight="bold" textLength="5.8" lengthAdjust="spacingAndGlyphs" fill="#000" stroke="#000" stroke-width="0.35">C</text>
<rect x="343.5" y="243.5" width="338" height="235" fill="#fff" stroke="#5e5e5e" stroke-width="1"/>
<text x="513" y="258" font-size="8.4" font-weight="bold" text-anchor="middle" textLength="36" lengthAdjust="spacingAndGlyphs" fill="#000">PSI-Blast</text>
<rect x="380" y="282" width="198" height="146.5" fill="#C0C0C0"/>
<rect x="380" y="282" width="198" height="1" fill="#a6a6a6"/>
<rect x="577" y="282" width="1" height="146.5" fill="#9a9a9a"/>
<rect x="380" y="311" width="198" height="1" fill="#262626"/>
<rect x="380" y="340" width="198" height="1" fill="#262626"/>
<rect x="380" y="370" width="198" height="1" fill="#262626"/>
<rect x="380" y="399.5" width="198" height="1" fill="#6c6c6c"/>
<rect x="380" y="282" width="1" height="147.5" fill="#262626"/>
<rect x="377" y="311" width="3" height="1" fill="#262626"/>
<text x="373.5" y="314.7" font-size="9.6" text-anchor="end" textLength="8.88" lengthAdjust="spacingAndGlyphs" fill="#262626">20</text>
<rect x="377" y="340" width="3" height="1" fill="#262626"/>
<text x="373.5" y="343.7" font-size="9.6" text-anchor="end" textLength="8.88" lengthAdjust="spacingAndGlyphs" fill="#262626">15</text>
<rect x="377" y="370" width="3" height="1" fill="#262626"/>
<text x="373.5" y="373.7" font-size="9.6" text-anchor="end" textLength="8.88" lengthAdjust="spacingAndGlyphs" fill="#262626">10</text>
<rect x="377" y="399.5" width="3" height="1" fill="#262626"/>
<text x="373.5" y="403.2" font-size="9.6" text-anchor="end" textLength="4.44" lengthAdjust="spacingAndGlyphs" fill="#262626">5</text>
<rect x="377" y="282" width="3" height="1" fill="#262626"/>
<text x="373.5" y="285.7" font-size="9.6" text-anchor="end" textLength="8.88" lengthAdjust="spacingAndGlyphs" fill="#262626">25</text>
<rect x="377" y="428.5" width="3" height="1" fill="#262626"/>
<text x="373.5" y="432.2" font-size="9.6" text-anchor="end" textLength="4.44" lengthAdjust="spacingAndGlyphs" fill="#262626">0</text>
<rect x="380" y="428.5" width="198" height="1" fill="#3a3a3a"/>
<rect x="380" y="428.5" width="1" height="3.5" fill="#3a3a3a"/>
<rect x="395" y="428.5" width="1" height="3.5" fill="#3a3a3a"/>
<rect x="411" y="428.5" width="1" height="3.5" fill="#3a3a3a"/>
<rect x="426" y="428.5" width="1" height="3.5" fill="#3a3a3a"/>
<rect x="441" y="428.5" width="1" height="3.5" fill="#3a3a3a"/>
<rect x="456" y="428.5" width="1" height="3.5" fill="#3a3a3a"/>
<rect x="471" y="428.5" width="1" height="3.5" fill="#3a3a3a"/>
<rect x="486" y="428.5" width="1" height="3.5" fill="#3a3a3a"/>
<rect x="501" y="428.5" width="1" height="3.5" fill="#3a3a3a"/>
<rect x="517" y="428.5" width="1" height="3.5" fill="#3a3a3a"/>
<rect x="532" y="428.5" width="1" height="3.5" fill="#3a3a3a"/>
<rect x="547" y="428.5" width="1" height="3.5" fill="#3a3a3a"/>
<rect x="562" y="428.5" width="1" height="3.5" fill="#3a3a3a"/>
<rect x="577" y="428.5" width="1" height="3.5" fill="#3a3a3a"/>
<text x="385.5" y="442.5" font-size="8.4" text-anchor="end" textLength="4.2" lengthAdjust="spacingAndGlyphs" fill="#262626" transform="rotate(-45 385.5 442.5)">0</text>
<text x="400.65" y="442.5" font-size="8.4" text-anchor="end" textLength="8.41" lengthAdjust="spacingAndGlyphs" fill="#262626" transform="rotate(-45 400.65 442.5)">10</text>
<text x="415.81" y="442.5" font-size="8.4" text-anchor="end" textLength="8.41" lengthAdjust="spacingAndGlyphs" fill="#262626" transform="rotate(-45 415.81 442.5)">20</text>
<text x="430.96" y="442.5" font-size="8.4" text-anchor="end" textLength="8.41" lengthAdjust="spacingAndGlyphs" fill="#262626" transform="rotate(-45 430.96 442.5)">30</text>
<text x="446.12" y="442.5" font-size="8.4" text-anchor="end" textLength="8.41" lengthAdjust="spacingAndGlyphs" fill="#262626" transform="rotate(-45 446.12 442.5)">40</text>
<text x="461.27" y="442.5" font-size="8.4" text-anchor="end" textLength="8.41" lengthAdjust="spacingAndGlyphs" fill="#262626" transform="rotate(-45 461.27 442.5)">50</text>
<text x="476.42" y="442.5" font-size="8.4" text-anchor="end" textLength="8.41" lengthAdjust="spacingAndGlyphs" fill="#262626" transform="rotate(-45 476.42 442.5)">60</text>
<text x="491.58" y="442.5" font-size="8.4" text-anchor="end" textLength="8.41" lengthAdjust="spacingAndGlyphs" fill="#262626" transform="rotate(-45 491.58 442.5)">70</text>
<text x="506.73" y="442.5" font-size="8.4" text-anchor="end" textLength="8.41" lengthAdjust="spacingAndGlyphs" fill="#262626" transform="rotate(-45 506.73 442.5)">80</text>
<text x="521.88" y="442.5" font-size="8.4" text-anchor="end" textLength="8.41" lengthAdjust="spacingAndGlyphs" fill="#262626" transform="rotate(-45 521.88 442.5)">90</text>
<text x="537.04" y="442.5" font-size="8.4" text-anchor="end" textLength="12.61" lengthAdjust="spacingAndGlyphs" fill="#262626" transform="rotate(-45 537.04 442.5)">100</text>
<text x="552.19" y="442.5" font-size="8.4" text-anchor="end" textLength="12.61" lengthAdjust="spacingAndGlyphs" fill="#262626" transform="rotate(-45 552.19 442.5)">110</text>
<text x="567.35" y="442.5" font-size="8.4" text-anchor="end" textLength="12.61" lengthAdjust="spacingAndGlyphs" fill="#262626" transform="rotate(-45 567.35 442.5)">120</text>
<polyline points="388.08,421.72 403.23,411.72 418.38,408.42 433.54,404.89 448.69,404.19 463.85,400.18 479,401.07 494.15,392.89 509.31,387.24 524.46,378.65 539.62,373.59 554.77,355.58 569.92,309.15" fill="none" stroke="#000080" stroke-width="0.85"/>
<polyline points="388.08,422.66 403.23,419.96 418.38,419.43 433.54,412.9 448.69,412.9 463.85,403.01 479,402.19 494.15,404.01 509.31,400.77 524.46,386.59 539.62,383.12 554.77,379.94 569.92,365.99" fill="none" stroke="#FF00FF" stroke-width="0.85"/>
<polyline points="388.08,421.72 403.23,420.96 418.38,420.96 433.54,419.66 448.69,420.66 463.85,420.25 479,413.66 494.15,413.42 509.31,413.42 524.46,415.6 539.62,408.72 554.77,407.07 569.92,399.89" fill="none" stroke="#FFFF00" stroke-width="0.85"/>
<path d="M388.08 419.51L390.29 421.72L388.08 423.93L385.87 421.72Z" fill="#000080"/>
<path d="M403.23 409.51L405.44 411.72L403.23 413.93L401.02 411.72Z" fill="#000080"/>
<path d="M418.38 406.21L420.59 408.42L418.38 410.63L416.17 408.42Z" fill="#000080"/>
<path d="M433.54 402.68L435.75 404.89L433.54 407.1L431.33 404.89Z" fill="#000080"/>
<path d="M448.69 401.98L450.9 404.19L448.69 406.4L446.48 404.19Z" fill="#000080"/>
<path d="M463.85 397.97L466.06 400.18L463.85 402.39L461.64 400.18Z" fill="#000080"/>
<path d="M479 398.86L481.21 401.07L479 403.28L476.79 401.07Z" fill="#000080"/>
<path d="M494.15 390.68L496.36 392.89L494.15 395.1L491.94 392.89Z" fill="#000080"/>
<path d="M509.31 385.03L511.52 387.24L509.31 389.45L507.1 387.24Z" fill="#000080"/>
<path d="M524.46 376.44L526.67 378.65L524.46 380.86L522.25 378.65Z" fill="#000080"/>
<path d="M539.62 371.38L541.83 373.59L539.62 375.8L537.41 373.59Z" fill="#000080"/>
<path d="M554.77 353.37L556.98 355.58L554.77 357.79L552.56 355.58Z" fill="#000080"/>
<path d="M569.92 306.94L572.13 309.15L569.92 311.36L567.71 309.15Z" fill="#000080"/>
<rect x="386.12" y="420.71" width="3.91" height="3.91" fill="#FF00FF"/>
<rect x="401.28" y="418" width="3.91" height="3.91" fill="#FF00FF"/>
<rect x="416.43" y="417.47" width="3.91" height="3.91" fill="#FF00FF"/>
<rect x="431.58" y="410.94" width="3.91" height="3.91" fill="#FF00FF"/>
<rect x="446.74" y="410.94" width="3.91" height="3.91" fill="#FF00FF"/>
<rect x="461.89" y="401.05" width="3.91" height="3.91" fill="#FF00FF"/>
<rect x="477.05" y="400.23" width="3.91" height="3.91" fill="#FF00FF"/>
<rect x="492.2" y="402.05" width="3.91" height="3.91" fill="#FF00FF"/>
<rect x="507.35" y="398.82" width="3.91" height="3.91" fill="#FF00FF"/>
<rect x="522.51" y="384.64" width="3.91" height="3.91" fill="#FF00FF"/>
<rect x="537.66" y="381.16" width="3.91" height="3.91" fill="#FF00FF"/>
<rect x="552.81" y="377.99" width="3.91" height="3.91" fill="#FF00FF"/>
<rect x="567.97" y="364.04" width="3.91" height="3.91" fill="#FF00FF"/>
<path d="M388.08 419.43L390.37 423.56L385.78 423.56Z" fill="#FFFF00"/>
<path d="M403.23 418.66L405.53 422.79L400.94 422.79Z" fill="#FFFF00"/>
<path d="M418.38 418.66L420.68 422.79L416.09 422.79Z" fill="#FFFF00"/>
<path d="M433.54 417.37L435.83 421.5L431.24 421.5Z" fill="#FFFF00"/>
<path d="M448.69 418.37L450.99 422.5L446.4 422.5Z" fill="#FFFF00"/>
<path d="M463.85 417.96L466.14 422.09L461.55 422.09Z" fill="#FFFF00"/>
<path d="M479 411.37L481.3 415.5L476.7 415.5Z" fill="#FFFF00"/>
<path d="M494.15 411.13L496.45 415.26L491.86 415.26Z" fill="#FFFF00"/>
<path d="M509.31 411.13L511.6 415.26L507.01 415.26Z" fill="#FFFF00"/>
<path d="M524.46 413.31L526.76 417.44L522.17 417.44Z" fill="#FFFF00"/>
<path d="M539.62 406.42L541.91 410.55L537.32 410.55Z" fill="#FFFF00"/>
<path d="M554.77 404.77L557.06 408.91L552.47 408.91Z" fill="#FFFF00"/>
<path d="M569.92 397.6L572.22 401.73L567.63 401.73Z" fill="#FFFF00"/>
<rect x="585.5" y="335.5" width="93" height="40" fill="#fff" stroke="#333" stroke-width="1"/>
<line x1="587.8" y1="342.5" x2="604.7" y2="342.5" stroke="#2a2a80" stroke-width="1"/>
<path d="M596.25 340.29L598.46 342.5L596.25 344.71L594.04 342.5Z" fill="#000080"/>
<text x="606.8" y="345.4" font-size="8.8" textLength="63.3" lengthAdjust="spacingAndGlyphs" fill="#262626">Biological Process</text>
<line x1="587.8" y1="355.5" x2="604.7" y2="355.5" stroke="#f47af4" stroke-width="1"/>
<rect x="594.29" y="353.55" width="3.91" height="3.91" fill="#FF00FF"/>
<text x="606.8" y="358.4" font-size="8.8" textLength="63.3" lengthAdjust="spacingAndGlyphs" fill="#262626">Molecular Function</text>
<line x1="587.8" y1="368.5" x2="604.7" y2="368.5" stroke="#ffff7a" stroke-width="1"/>
<path d="M596.25 366.2L598.54 370.34L593.96 370.34Z" fill="#FFFF00"/>
<text x="606.8" y="371.4" font-size="8.8" textLength="69.4" lengthAdjust="spacingAndGlyphs" fill="#262626">Cellular Component</text>
<text x="360.8" y="355.4" font-size="8.6" font-weight="bold" text-anchor="middle" textLength="20" lengthAdjust="spacingAndGlyphs" fill="#000" transform="rotate(-90 360.8 355.4)">Ratio</text>
<text x="479" y="466" font-size="8.4" font-weight="bold" text-anchor="middle" textLength="42.6" lengthAdjust="spacingAndGlyphs" fill="#000">-log(E-value)</text>
<text x="348.6" y="472.3" font-size="10" font-weight="bold" textLength="5.6" lengthAdjust="spacingAndGlyphs" fill="#000" stroke="#000" stroke-width="0.35">D</text>
</g>
</svg>
</body></html>
